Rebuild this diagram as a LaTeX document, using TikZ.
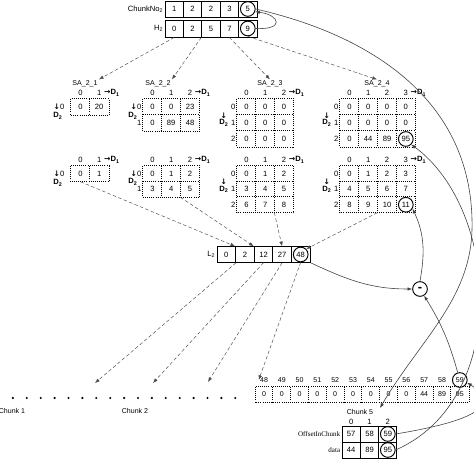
\documentclass[tikz,border=0pt]{standalone}
\usepackage{fontspec}
\setmainfont{Liberation Sans}
\newfontfamily\serifcell{Liberation Serif}
\newfontfamily\arrfont{DejaVu Sans}
\usetikzlibrary{arrows.meta}
\newcommand{\rarr}{{\arrfont\bfseries →}}
\newcommand{\darr}{{\arrfont\bfseries ↓}}
\newcommand{\dimone}{\rarr\textbf{D\textsubscript{1}}}
\newcommand{\dimtwo}{\textbf{D\textsubscript{2}}}
% dotted grid over the cells #1-r-c, last row #2, last column #3
\newcommand{\dotgrid}[3]{%
  \draw[dots] (#1-0-0.north west) rectangle (#1-#2-#3.south east);
  \foreach \c in {1,...,#3} \draw[dots] (#1-0-\c.north west) -- (#1-#2-\c.south west);
  \ifnum#2>0 \foreach \r in {1,...,#2} \draw[dots] (#1-\r-0.north west) -- (#1-\r-#3.north east);\fi
}

\begin{document}
\begin{tikzpicture}[x=0.03cm, y=-0.03cm,
  every node/.style={font=\fontsize{6.5}{7.5}\selectfont, inner sep=1pt},
  cell/.style={draw, line width=0.8pt, minimum width=0.552cm, minimum height=0.48cm, inner sep=0pt},
  dcell/.style={minimum width=0.564cm, minimum height=0.48cm, inner sep=0pt},
  dots/.style={line width=0.55pt, dash pattern=on 0.5pt off 1.3pt},
  ring/.style={draw, circle, line width=0.8pt, minimum size=0.44cm, inner sep=0pt},
  salab/.style={font=\fontsize{6}{7}\selectfont},
  dasharrow/.style={densely dashed, line width=0.4pt, black!70, -{Latex[length=4pt,width=3pt]}},
  link/.style={line width=0.5pt, black!75, -{Latex[length=4pt,width=3pt]}}]
\useasboundingbox (0,0) rectangle (474,460);

% ChunkNo and H
\foreach \v [count=\i] in {1,2,2,3,5}
  \node[cell] (cn\i) at (155.8+18.4*\i,9) {\v};
\foreach \v [count=\i] in {0,2,5,7,9}
  \node[cell, minimum height=0.51cm] (h\i) at (155.8+18.4*\i,28.5) {\v};
\node[ring] (cnr) at (cn5) {};
\node[ring] (hr) at (h5) {};
\node[anchor=east] (cnlab) at (cn1.west) {ChunkNo\textsubscript{2}};
\node[anchor=east] (hlab) at (h1.west) {H\textsubscript{2}};

% SA_2_1
\node[salab] (sa1lab) at (85,84) {SA\_2\_1};
\foreach \c in {0,1} \node (sa1h\c) at (80.4+18.8*\c,93) {\c};
\node[anchor=west] (sa1d1) at (sa1h1.east) {\dimone};
\foreach \v [count=\c from 0] in {0,20}
  \node[dcell] (sa1-0-\c) at (80.4+18.8*\c,107) {\v};
\dotgrid{sa1}{0}{1}
\node[anchor=east, xshift=-0.15cm] (sa1r0) at (sa1-0-0.west) {\darr 0};
\node (sa1d2) at (58,116) {\dimtwo};

% SA_2_2
\node[salab] (sa2lab) at (158,84) {SA\_2\_2};
\foreach \c in {0,1,2} \node (sa2h\c) at (152.4+18.8*\c,93) {\c};
\node[anchor=west] (sa2d1) at (sa2h2.east) {\dimone};
\foreach \row [count=\r from 0] in {{0,0,23},{0,89,48}}
  \foreach \v [count=\c from 0] in \row
    \node[dcell] (sa2-\r-\c) at (152.4+18.8*\c,107+16*\r) {\v};
\dotgrid{sa2}{1}{2}
\node[anchor=east] (sa2r0) at (sa2-0-0.west) {\darr 0};
\node[anchor=east] (sa2r1) at (sa2-1-0.west) {1};
\node (sa2d2) at (133,116) {\dimtwo};

% SA_2_3
\node[salab] (sa3lab) at (270,84) {SA\_2\_3};
\foreach \c in {0,1,2} \node (sa3h\c) at (246.4+18.8*\c,93) {\c};
\node[anchor=west] (sa3d1) at (sa3h2.east) {\dimone};
\foreach \row [count=\r from 0] in {{0,0,0},{0,0,0},{0,0,0}}
  \foreach \v [count=\c from 0] in \row
    \node[dcell] (sa3-\r-\c) at (246.4+18.8*\c,107+16*\r) {\v};
\dotgrid{sa3}{2}{2}
\foreach \r in {0,1,2} \node[anchor=east] (sa3r\r) at (sa3-\r-0.west) {\r};
\node[anchor=east] (sa3d2) at (sa3r1.west) {\dimtwo};
\node[anchor=south, inner sep=0pt] (sa3dn) at (sa3d2.north) {\darr};

% SA_2_4
\node[salab] (sa4lab) at (377,84) {SA\_2\_4};
\foreach \c in {0,1,2,3} \node (sa4h\c) at (349.4+18.8*\c,93) {\c};
\node[anchor=west] (sa4d1) at (sa4h3.east) {\dimone};
\foreach \row [count=\r from 0] in {{0,0,0,0},{0,0,0,0},{0,44,89,95}}
  \foreach \v [count=\c from 0] in \row
    \node[dcell] (sa4-\r-\c) at (349.4+18.8*\c,107+16*\r) {\v};
\dotgrid{sa4}{2}{3}
\foreach \r in {0,1,2} \node[anchor=east] (sa4r\r) at (sa4-\r-0.west) {\r};
\node[anchor=east] (sa4d2) at (sa4r1.west) {\dimtwo};
\node[anchor=south, inner sep=0pt] (sa4dn) at (sa4d2.north) {\darr};
\node[ring] (sa4ring) at (sa4-2-3) {};

% index arrays under them
\foreach \c in {0,1} \node (ix1h\c) at (80.4+18.8*\c,160) {\c};
\node[anchor=west] (ix1d1) at (ix1h1.east) {\dimone};
\foreach \v [count=\c from 0] in {0,1}
  \node[dcell, minimum height=0.465cm] (ix1-0-\c) at (80.4+18.8*\c,173.75) {\v};
\dotgrid{ix1}{0}{1}
\node[anchor=east, xshift=-0.15cm] (ix1r0) at (ix1-0-0.west) {\darr 0};
\node (ix1d2) at (58,183) {\dimtwo};

\foreach \c in {0,1,2} \node (ix2h\c) at (152.4+18.8*\c,160) {\c};
\node[anchor=west] (ix2d1) at (ix2h2.east) {\dimone};
\foreach \row [count=\r from 0] in {{0,1,2},{3,4,5}}
  \foreach \v [count=\c from 0] in \row
    \node[dcell, minimum height=0.465cm] (ix2-\r-\c) at (152.4+18.8*\c,173.75+15.5*\r) {\v};
\dotgrid{ix2}{1}{2}
\node[anchor=east] (ix2r0) at (ix2-0-0.west) {\darr 0};
\node[anchor=east] (ix2r1) at (ix2-1-0.west) {1};
\node (ix2d2) at (133,182) {\dimtwo};

\foreach \c in {0,1,2} \node (ix3h\c) at (246.4+18.8*\c,160) {\c};
\node[anchor=west] (ix3d1) at (ix3h2.east) {\dimone};
\foreach \row [count=\r from 0] in {{0,1,2},{3,4,5},{6,7,8}}
  \foreach \v [count=\c from 0] in \row
    \node[dcell, minimum height=0.465cm] (ix3-\r-\c) at (246.4+18.8*\c,173.75+15.5*\r) {\v};
\dotgrid{ix3}{2}{2}
\foreach \r in {0,1,2} \node[anchor=east] (ix3r\r) at (ix3-\r-0.west) {\r};
\node[anchor=east] (ix3d2) at (ix3r1.west) {\dimtwo};
\node[anchor=south, inner sep=0pt] (ix3dn) at (ix3d2.north) {\darr};

\foreach \c in {0,1,2,3} \node (ix4h\c) at (349.4+18.8*\c,160) {\c};
\node[anchor=west] (ix4d1) at (ix4h3.east) {\dimone};
\foreach \row [count=\r from 0] in {{0,1,2,3},{4,5,6,7},{8,9,10,11}}
  \foreach \v [count=\c from 0] in \row
    \node[dcell, minimum height=0.465cm] (ix4-\r-\c) at (349.4+18.8*\c,173.75+15.5*\r) {\v};
\dotgrid{ix4}{2}{3}
\foreach \r in {0,1,2} \node[anchor=east] (ix4r\r) at (ix4-\r-0.west) {\r};
\node[anchor=east] (ix4d2) at (ix4r1.west) {\dimtwo};
\node[anchor=south, inner sep=0pt] (ix4dn) at (ix4d2.north) {\darr};
\node[ring] (ixring) at (ix4-2-3) {};

% L2
\foreach \v [count=\i] in {0,2,12,27,48}
  \node[cell, minimum width=0.558cm, minimum height=0.465cm] (l\i) at (207.7+18.6*\i,254.5) {\v};
\node[ring] (lring) at (l5) {};
\node[anchor=east] (llab) at (l1.west) {L\textsubscript{2}};
\node[ring, minimum size=0.44cm, font=\fontsize{11}{11}\selectfont\bfseries] (minus) at (420,289) {-};

% the chunks
\foreach \i in {1,...,17} \fill (-1+13.9*\i,398) circle (0.035cm);
\node[salab] (chunk1) at (12,411) {Chunk 1};
\node[salab] (chunk2) at (135,411) {Chunk 2};
\node[salab] (chunk5) at (360,412) {Chunk 5};
\foreach \i [count=\k from 0] in {48,...,59}
  \node[salab] (chi\k) at (264+17.8*\k,380) {\i};
\foreach \v [count=\k from 0] in {0,0,0,0,0,0,0,0,0,44,89,95}
  \node[dcell, salab, minimum width=0.534cm, minimum height=0.45cm] (ch-0-\k) at (264+17.8*\k,394.5) {\v};
\dotgrid{ch}{0}{11}
\node[ring] (chring) at (chi11) {};
\coordinate (p1) at (95,383);
\coordinate (p2) at (153,383);
\coordinate (p3) at (208,382);
\coordinate (c5tip) at (380,408);

% OffsetInChunk / data
\foreach \c in {0,1,2} \node (bth\c) at (351.2+18.3*\c,422) {\c};
\foreach \v [count=\c from 0] in {57,58,59}
  \node[cell, minimum width=0.549cm] (off\c) at (351.2+18.3*\c,434) {\v};
\foreach \v [count=\c from 0] in {44,89,95}
  \node[cell, minimum width=0.549cm] (dat\c) at (351.2+18.3*\c,450) {\v};
\node[ring] (offring) at (off2) {};
\node[ring] (datring) at (dat2) {};
\node[anchor=east, font=\serifcell\fontsize{6}{7}\selectfont] (offlab) at (off0.west) {OffsetInChunk};
\node[anchor=east, font=\serifcell\fontsize{6}{7}\selectfont] (datlab) at (dat0.west) {data};

% dashed arrows
\draw[dasharrow] (h1.south) -- (sa1lab.north east);
\draw[dasharrow] (h3.south west) -- (sa2lab.north east);
\draw[dasharrow] (h4.south) -- (sa3lab.north);
\draw[dasharrow] (hr.south) -- (sa4lab.north);
\draw[dasharrow] (ix1-0-0.south) -- (l2.north west);
\draw[dasharrow] (ix2-1-2.south west) -- (l3.north west);
\draw[dasharrow] (ix3-2-2.south west) -- (l4.north);
\draw[dasharrow] (ix4-2-2.south west) -- (lring.north east);
\draw[dasharrow] (l1.south east) -- (p1);
\draw[dasharrow] (l3.south) -- (p2);
\draw[dasharrow] (l4.south) -- (p3);
\draw[dasharrow] (lring.south) -- (chi0.west);

% solid arrows
\draw[link] (hr.east) .. controls (285,30) and (280,15) .. (cnr.-20);
\draw[link] (cnr.east) .. controls (370,35) and (475,100) .. (472,230) .. controls (470,300) and (420,340) .. (c5tip);
\draw[link] (l5.south east) to[out=-25,in=180] (minus);
\draw[link] (chring) to[bend right=8] (minus);
\draw[link] (minus.north) to[out=80,in=-65] (ixring.-30);
\draw[link] (offring.east) .. controls (450,425) and (510,410) .. (chring.-20);
\draw[link] (datring.east) .. controls (510,400) and (500,210) .. (sa4ring.south east);
\end{tikzpicture}
\end{document}
